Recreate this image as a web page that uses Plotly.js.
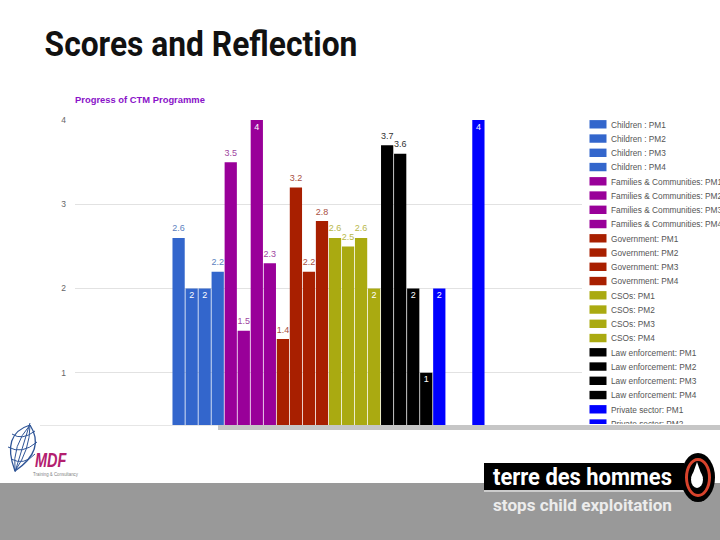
<!DOCTYPE html>
<html><head><meta charset="utf-8">
<script src="https://cdn.plot.ly/plotly-3.0.1.min.js"></script>
<style>html,body{margin:0;padding:0;background:#fff;overflow:hidden}#c{width:720px;height:540px}</style>
</head><body><div id="c"></div>
<script>
var groups = ["Children : ","Families & Communities: ","Government: ","CSOs: ","Law enforcement: ","Private sector: "];
var measures = ["PM1","PM2","PM3","PM4"];
var colors = ["#3366cc","#990099","#a81f00","#aaaa11","#000000","#0000ff"];
var labelColors = ["#5c7fc0","#a0459f","#a9503f","#b8b84a","#333333","#0000ff"];
var children = [2.6,2,2,2.2];
var families = [3.5,1.5,4,2.3];
var government = [1.4,3.2,2.2,2.8];
var csos = [2.6,2.5,2.6,2];
var lawEnforcement = [3.7,3.6,2,1];
var privateSector = [2,null,null,4];
var series = [children,families,government,csos,lawEnforcement,privateSector];
var yTicks = [1,2,3,4];
var insideValues = [2,1,4];

var W=720,H=540,L=75,R=582,T=120,B=425;
function px(x){return (x-L)/(R-L);}
function py(y){return (B-y)/(B-T);}

var sans='Liberation Sans, Arial, sans-serif';
var traces=[];
series.forEach(function(vals,g){
  vals.forEach(function(v,m){
    var inside = v!==null && (insideValues.indexOf(v)>=0);
    traces.push({
      type:'bar', x:['Scores'], y:[v], name:groups[g]+measures[m],
      marker:{color:colors[g]},
      text:[v===null?'':String(v)],
      textposition: inside?'inside':'outside',
      insidetextanchor:'end',
      textangle:0,
      constraintext:'none',
      cliponaxis:false,
      insidetextfont:{family:sans,size:9,color:'#ffffff'},
      outsidetextfont:{family:sans,size:9,color:labelColors[g]},
      hoverinfo:'name+y'
    });
  });
});

function rect(x0,y0,x1,y1,fill){return {type:'rect',xref:'paper',yref:'paper',x0:px(x0),x1:px(x1),y0:py(y0),y1:py(y1),fillcolor:fill,line:{width:0},layer:'above'};}
function oval(x0,y0,x1,y1,fill){return {type:'circle',xref:'paper',yref:'paper',x0:px(x0),x1:px(x1),y0:py(y0),y1:py(y1),fillcolor:fill,line:{width:0},layer:'above'};}
function seg(x0,y0,x1,y1,c,w){return {type:'line',xref:'paper',yref:'paper',x0:px(x0),x1:px(x1),y0:py(y0),y1:py(y1),line:{color:c,width:w},layer:'above'};}
function curve(a,c,b,col,w){return {type:'path',xref:'paper',yref:'paper',
  path:'M '+px(a[0])+' '+py(a[1])+' Q '+px(c[0])+' '+py(c[1])+' '+px(b[0])+' '+py(b[1]),
  fillcolor:'rgba(0,0,0,0)',line:{color:col,width:w},layer:'above'};}
function note(t,x,y,size,color,family){return {text:t,xref:'paper',yref:'paper',x:px(x),y:py(y),xanchor:'left',yanchor:'middle',showarrow:false,font:{size:size,color:color,family:family},borderpad:0};}

var globe='#2f5597';
var shapes=[
  rect(0,483,720,540,'#999999'),
  seg(40,425.5,218,425.5,'#e6e6e6',1),
  rect(218,425,720,430,'#c6c6c6'),
  // MDF globe
  curve([30,425],[1,434],[15,471],globe,1.3),
  curve([30,425],[46,450],[15,471],globe,1.3),
  curve([30,425],[12,445],[15,471],globe,1),
  curve([30,425],[30,450],[15,471],globe,1),
  curve([12,434],[22,441],[35,431],globe,1),
  curve([8,447],[22,455],[37,442],globe,1),
  curve([11,459],[24,466],[35,454],globe,1),
  seg(15,472,30,423,globe,1),
  // terre des hommes
  rect(484,463,684,490,'#000000'),
  seg(484,491,684,491,'#ffffff',1),
  oval(681,453,715,502,'#000000'),
  oval(685,458,711,497,'#d8432c'),
  oval(688,461,708,494,'#000000'),
  oval(691,471,703,488,'#ffffff'),
  {type:'path',xref:'paper',yref:'paper',path:'M '+px(697)+' '+py(462)+' L '+px(691.3)+' '+py(478)+' L '+px(702.7)+' '+py(478)+' Z',fillcolor:'#ffffff',line:{width:0},layer:'above'}
];
var annotations=[
  note('<b>Scores and Reflection</b>',44,44,35,'#111111','Roboto, sans-serif'),
  note('<b>Progress of CTM Programme</b>',75,100.5,9,'#8a12c9',sans),
  note('<b><i>MDF</i></b>',35,460.5,20,'#b3206f',sans),
  note('Training &amp; Consultancy',33,473.5,6,'#7f7f7f',sans),
  note('<b>terre des hommes</b>',493,477,24,'#ffffff','Roboto, sans-serif'),
  note('<b>stops child exploitation</b>',493,505,17,'#ececec','Roboto, sans-serif')
];
// left edge and width, in pixels, that each annotation text should fill
var fitBoxes=[[44.5,313],[75,130],[35,32],[33,45],[493,179],[493,179]];

var layout={
  width:W,height:H,autosize:false,
  margin:{l:L,r:W-R,t:T,b:H-B,pad:0,autoexpand:false},
  paper_bgcolor:'#ffffff',plot_bgcolor:'#ffffff',
  barmode:'group',bargap:0.383,bargroupgap:0.06,
  showlegend:true,
  legend:{x:px(571),y:py(115),xanchor:'left',yanchor:'top',maxheight:309,
    bgcolor:'rgba(0,0,0,0)',borderwidth:0,traceorder:'normal',itemclick:false,itemdoubleclick:false,
    font:{family:sans,size:8.3,color:'#555555'}},
  xaxis:{showticklabels:false,showgrid:false,zeroline:false,ticks:'',showline:false},
  yaxis:{range:[0.38,4],tickvals:yTicks,ticktext:yTicks.map(String),showgrid:true,gridcolor:'#e2e2e2',gridwidth:1,
    zeroline:false,showline:false,ticks:'',ticklabelstandoff:8,
    tickfont:{family:sans,size:8.5,color:'#666666'}},
  shapes:shapes,annotations:annotations
};
Plotly.newPlot('c',traces,layout,{displayModeBar:false,responsive:false}).then(function(gd){
  var box=gd.getBoundingClientRect();
  // compact legend rows and wide swatches
  gd.querySelectorAll('.legend .traces').forEach(function(r,i){
    r.setAttribute('transform','translate(0,'+(9.3+i*14.25)+')');
    var p=r.querySelector('.legendpoints path');
    if(p){p.setAttribute('d','M8.5,4.2H-8.5V-4.2H8.5Z');p.style.stroke='none';}
    var pts=r.querySelector('.legendpoints');
    if(pts){pts.setAttribute('transform','translate(7,0)');}
  });
  var sb=gd.querySelector('.legend .scrollbar');
  if(sb){sb.style.display='none';}
  // value labels sit a little further from the bar tops
  gd.querySelectorAll('.bars .bartext text, .bars text.bartext').forEach(function(t){
    t.setAttribute('dy','-1.5');
  });
  // condense the title and logo texts to their widths
  gd.querySelectorAll('.annotation').forEach(function(a){
    var i=+a.getAttribute('data-index'), t=a.querySelector('text'), f=fitBoxes[i];
    if(!t||!f){return;}
    var b=t.getBBox(), r=t.getBoundingClientRect();
    var sx=f[1]/r.width, dx=f[0]-(r.left-box.left);
    var old=t.getAttribute('transform')||'';
    t.setAttribute('transform',old+' translate('+(b.x+dx)+',0) scale('+sx+',1) translate('+(-b.x)+',0)');
  });
});
</script></body></html>
